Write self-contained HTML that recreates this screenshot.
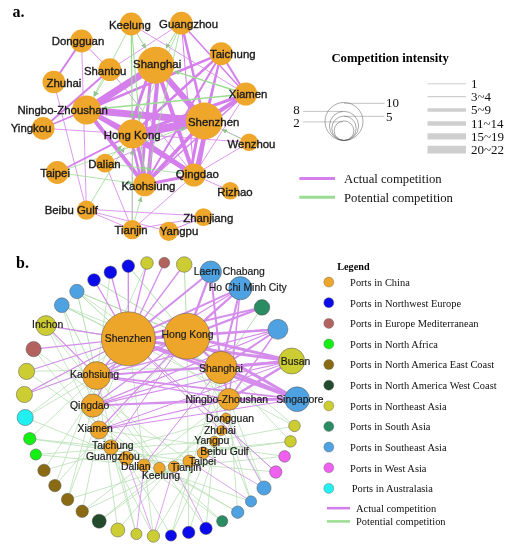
<!DOCTYPE html><html><head><meta charset="utf-8"><style>html,body{margin:0;padding:0;background:#fff;}svg{display:block;}</style></head><body>
<svg width="516" height="550" viewBox="0 0 516 550">
<rect width="516" height="550" fill="#fff"/>
<defs><marker id="ag" viewBox="0 0 10 10" refX="10" refY="5" markerWidth="5" markerHeight="5" markerUnits="userSpaceOnUse" orient="auto"><path d="M0,0L10,5L0,10z" fill="#8FC48F"/></marker></defs>
<g stroke-linecap="butt">
<line x1="81.6" y1="41.0" x2="53.8" y2="82.0" stroke="#D47FEC" stroke-width="2" stroke-opacity="1.0"/>
<line x1="81.6" y1="41.0" x2="109.8" y2="69.7" stroke="#D47FEC" stroke-width="1" stroke-opacity="1.0"/>
<line x1="81.6" y1="41.0" x2="86.4" y2="210.2" stroke="#D47FEC" stroke-width="0.8" stroke-opacity="1.0"/>
<line x1="109.8" y1="69.7" x2="43.1" y2="128.3" stroke="#D47FEC" stroke-width="2" stroke-opacity="1.0"/>
<line x1="181.4" y1="23.2" x2="109.8" y2="69.7" stroke="#D47FEC" stroke-width="0.8" stroke-opacity="1.0"/>
<line x1="131.2" y1="24.0" x2="245.8" y2="94.0" stroke="#D47FEC" stroke-width="0.8" stroke-opacity="1.0"/>
<line x1="43.1" y1="128.3" x2="86.5" y2="110.0" stroke="#D47FEC" stroke-width="1.5" stroke-opacity="1.0"/>
<line x1="43.1" y1="128.3" x2="132.4" y2="134.1" stroke="#D47FEC" stroke-width="0.8" stroke-opacity="1.0"/>
<line x1="57.3" y1="172.5" x2="132.4" y2="134.1" stroke="#D47FEC" stroke-width="1.8" stroke-opacity="1.0"/>
<line x1="53.8" y1="82.0" x2="86.4" y2="210.2" stroke="#D47FEC" stroke-width="0.8" stroke-opacity="1.0"/>
<line x1="109.8" y1="69.7" x2="194.0" y2="175.0" stroke="#D47FEC" stroke-width="0.8" stroke-opacity="1.0"/>
<line x1="194.0" y1="175.0" x2="230.2" y2="190.7" stroke="#D47FEC" stroke-width="0.8" stroke-opacity="1.0"/>
<line x1="204.3" y1="121.0" x2="249.1" y2="142.3" stroke="#D47FEC" stroke-width="0.8" stroke-opacity="1.0"/>
<line x1="132.4" y1="134.1" x2="249.1" y2="142.3" stroke="#D47FEC" stroke-width="0.8" stroke-opacity="1.0"/>
<line x1="194.0" y1="175.0" x2="249.1" y2="142.3" stroke="#D47FEC" stroke-width="0.8" stroke-opacity="1.0"/>
<line x1="86.5" y1="209.2" x2="203.6" y2="216.1" stroke="#D47FEC" stroke-width="0.8" stroke-opacity="1.0"/>
<line x1="86.4" y1="210.2" x2="132.2" y2="229.6" stroke="#D47FEC" stroke-width="0.8" stroke-opacity="1.0"/>
<line x1="86.4" y1="210.2" x2="168.7" y2="231.3" stroke="#D47FEC" stroke-width="0.8" stroke-opacity="1.0"/>
<line x1="132.2" y1="229.6" x2="194.0" y2="175.0" stroke="#D47FEC" stroke-width="0.8" stroke-opacity="1.0"/>
<line x1="132.2" y1="229.6" x2="203.5" y2="217.1" stroke="#D47FEC" stroke-width="0.8" stroke-opacity="1.0"/>
<line x1="168.7" y1="231.3" x2="203.5" y2="217.1" stroke="#D47FEC" stroke-width="1" stroke-opacity="1.0"/>
<line x1="132.2" y1="229.6" x2="132.4" y2="134.1" stroke="#D47FEC" stroke-width="0.8" stroke-opacity="1.0"/>
<line x1="105.1" y1="163.2" x2="132.2" y2="229.6" stroke="#D47FEC" stroke-width="0.8" stroke-opacity="1.0"/>
<line x1="105.1" y1="163.2" x2="204.3" y2="121.0" stroke="#D47FEC" stroke-width="0.8" stroke-opacity="1.0"/>
<line x1="245.8" y1="94.0" x2="194.0" y2="175.0" stroke="#D47FEC" stroke-width="0.8" stroke-opacity="1.0"/>
<line x1="245.8" y1="94.0" x2="144.7" y2="184.8" stroke="#D47FEC" stroke-width="1.5" stroke-opacity="1.0"/>
<line x1="221.2" y1="53.7" x2="194.0" y2="175.0" stroke="#D47FEC" stroke-width="1.5" stroke-opacity="1.0"/>
<line x1="221.2" y1="53.7" x2="144.7" y2="184.8" stroke="#D47FEC" stroke-width="2" stroke-opacity="1.0"/>
<line x1="221.2" y1="53.7" x2="245.8" y2="94.0" stroke="#D47FEC" stroke-width="2" stroke-opacity="1.0"/>
<line x1="221.2" y1="53.7" x2="204.3" y2="121.0" stroke="#D47FEC" stroke-width="2" stroke-opacity="1.0"/>
<line x1="221.2" y1="53.7" x2="86.5" y2="110.0" stroke="#D47FEC" stroke-width="2.5" stroke-opacity="1.0"/>
<line x1="221.2" y1="53.7" x2="132.4" y2="134.1" stroke="#D47FEC" stroke-width="2.5" stroke-opacity="1.0"/>
<line x1="181.4" y1="23.2" x2="204.3" y2="121.0" stroke="#D47FEC" stroke-width="2.5" stroke-opacity="1.0"/>
<line x1="181.4" y1="23.2" x2="245.8" y2="94.0" stroke="#D47FEC" stroke-width="1.5" stroke-opacity="1.0"/>
<line x1="181.4" y1="23.2" x2="194.0" y2="175.0" stroke="#D47FEC" stroke-width="1" stroke-opacity="1.0"/>
<line x1="131.2" y1="24.0" x2="93.6" y2="96.3" stroke="#9ADC92" stroke-width="0.8" marker-end="url(#ag)" stroke-opacity="1.0"/>
<line x1="245.8" y1="94.0" x2="132.4" y2="134.1" stroke="#D47FEC" stroke-width="3" stroke-opacity="1.0"/>
<line x1="245.8" y1="94.0" x2="204.3" y2="121.0" stroke="#D47FEC" stroke-width="4" stroke-opacity="1.0"/>
<line x1="144.7" y1="184.8" x2="194.0" y2="175.0" stroke="#D47FEC" stroke-width="3" stroke-opacity="1.0"/>
<line x1="86.5" y1="110.0" x2="194.0" y2="175.0" stroke="#D47FEC" stroke-width="3" stroke-opacity="1.0"/>
<line x1="152.0" y1="63.9" x2="128.6" y2="132.8" stroke="#D47FEC" stroke-width="3" stroke-opacity="1.0"/>
<line x1="204.3" y1="121.0" x2="144.7" y2="184.8" stroke="#D47FEC" stroke-width="3.5" stroke-opacity="1.0"/>
<line x1="207.2" y1="121.6" x2="196.9" y2="175.6" stroke="#D47FEC" stroke-width="4" stroke-opacity="1.0"/>
<line x1="200.4" y1="120.3" x2="190.1" y2="174.3" stroke="#D47FEC" stroke-width="3" stroke-opacity="1.0"/>
<line x1="134.8" y1="133.5" x2="147.1" y2="184.2" stroke="#D47FEC" stroke-width="3.5" stroke-opacity="1.0"/>
<line x1="130.0" y1="134.7" x2="142.3" y2="185.4" stroke="#D47FEC" stroke-width="2.5" stroke-opacity="1.0"/>
<line x1="132.4" y1="134.1" x2="194.0" y2="175.0" stroke="#D47FEC" stroke-width="5" stroke-opacity="1.0"/>
<line x1="155.8" y1="65.2" x2="194.0" y2="175.0" stroke="#D47FEC" stroke-width="4" stroke-opacity="1.0"/>
<line x1="158.8" y1="65.5" x2="147.7" y2="185.1" stroke="#D47FEC" stroke-width="4" stroke-opacity="1.0"/>
<line x1="151.8" y1="64.8" x2="140.7" y2="184.4" stroke="#D47FEC" stroke-width="3" stroke-opacity="1.0"/>
<line x1="86.5" y1="110.0" x2="144.7" y2="184.8" stroke="#D47FEC" stroke-width="4" stroke-opacity="1.0"/>
<line x1="86.5" y1="110.0" x2="132.4" y2="134.1" stroke="#D47FEC" stroke-width="5" stroke-opacity="1.0"/>
<line x1="155.8" y1="65.2" x2="204.3" y2="121.0" stroke="#D47FEC" stroke-width="6" stroke-opacity="1.0"/>
<line x1="86.5" y1="110.0" x2="204.3" y2="121.0" stroke="#D47FEC" stroke-width="7" stroke-opacity="1.0"/>
<line x1="132.4" y1="134.1" x2="204.3" y2="121.0" stroke="#D47FEC" stroke-width="8" stroke-opacity="1.0"/>
<line x1="155.8" y1="65.2" x2="86.5" y2="110.0" stroke="#D47FEC" stroke-width="7" stroke-opacity="1.0"/>
<line x1="131.2" y1="24.0" x2="145.8" y2="48.5" stroke="#9ADC92" stroke-width="1" marker-end="url(#ag)" stroke-opacity="1.0"/>
<line x1="181.4" y1="23.2" x2="165.9" y2="48.5" stroke="#9ADC92" stroke-width="1" marker-end="url(#ag)" stroke-opacity="1.0"/>
<line x1="245.8" y1="94.0" x2="174.4" y2="71.1" stroke="#9ADC92" stroke-width="1.5" marker-end="url(#ag)" stroke-opacity="1.0"/>
<line x1="245.8" y1="94.0" x2="101.8" y2="108.5" stroke="#9ADC92" stroke-width="1.5" marker-end="url(#ag)" stroke-opacity="1.0"/>
<line x1="131.2" y1="24.0" x2="132.2" y2="118.6" stroke="#9ADC92" stroke-width="1.2" marker-end="url(#ag)" stroke-opacity="1.0"/>
<line x1="131.2" y1="24.0" x2="143.7" y2="172.3" stroke="#9ADC92" stroke-width="1" marker-end="url(#ag)" stroke-opacity="1.0"/>
<line x1="181.4" y1="23.2" x2="138.7" y2="119.9" stroke="#9ADC92" stroke-width="0.8" marker-end="url(#ag)" stroke-opacity="1.0"/>
<line x1="181.4" y1="23.2" x2="147.5" y2="172.6" stroke="#9ADC92" stroke-width="0.8" marker-end="url(#ag)" stroke-opacity="1.0"/>
<line x1="109.8" y1="69.7" x2="94.2" y2="96.7" stroke="#9ADC92" stroke-width="0.8" marker-end="url(#ag)" stroke-opacity="1.0"/>
<line x1="105.1" y1="163.2" x2="121.8" y2="145.4" stroke="#9ADC92" stroke-width="0.8" marker-end="url(#ag)" stroke-opacity="1.0"/>
<line x1="57.3" y1="172.5" x2="132.3" y2="183.1" stroke="#9ADC92" stroke-width="0.8" marker-end="url(#ag)" stroke-opacity="1.0"/>
<line x1="132.2" y1="229.6" x2="141.3" y2="196.8" stroke="#9ADC92" stroke-width="0.8" marker-end="url(#ag)" stroke-opacity="1.0"/>
<line x1="132.2" y1="229.6" x2="132.4" y2="149.6" stroke="#9ADC92" stroke-width="0.8" marker-end="url(#ag)" stroke-opacity="1.0"/>
<line x1="86.4" y1="210.2" x2="124.4" y2="147.4" stroke="#9ADC92" stroke-width="0.8" marker-end="url(#ag)" stroke-opacity="1.0"/>
<line x1="105.1" y1="163.2" x2="181.5" y2="173.3" stroke="#9ADC92" stroke-width="0.8" marker-end="url(#ag)" stroke-opacity="1.0"/>
<line x1="249.1" y1="142.3" x2="221.9" y2="129.4" stroke="#9ADC92" stroke-width="0.8" marker-end="url(#ag)" stroke-opacity="1.0"/>
<line x1="57.3" y1="172.5" x2="185.9" y2="127.4" stroke="#9ADC92" stroke-width="0.8" marker-end="url(#ag)" stroke-opacity="1.0"/>
</g>
<g fill="#EEA62B">
<circle cx="131.2" cy="24" r="11.4"/>
<circle cx="181.4" cy="23.2" r="11.4"/>
<circle cx="81.6" cy="41" r="11.4"/>
<circle cx="109.8" cy="69.7" r="11.4"/>
<circle cx="155.8" cy="65.2" r="18.5"/>
<circle cx="221.2" cy="53.7" r="11.5"/>
<circle cx="53.8" cy="82" r="11.3"/>
<circle cx="245.8" cy="94" r="11.5"/>
<circle cx="86.5" cy="110" r="14.4"/>
<circle cx="43.1" cy="128.3" r="11.4"/>
<circle cx="132.4" cy="134.1" r="14.5"/>
<circle cx="204.3" cy="121" r="18.5"/>
<circle cx="249.1" cy="142.3" r="8.8"/>
<circle cx="105.1" cy="163.2" r="9.4"/>
<circle cx="57.3" cy="172.5" r="11.4"/>
<circle cx="194" cy="175" r="11.6"/>
<circle cx="144.7" cy="184.8" r="11.5"/>
<circle cx="230.2" cy="190.7" r="8.8"/>
<circle cx="86.4" cy="210.2" r="9.6"/>
<circle cx="203.5" cy="217.1" r="8.9"/>
<circle cx="132.2" cy="229.6" r="9.6"/>
<circle cx="168.7" cy="231.3" r="9.6"/>
</g>
<g font-family="Liberation Sans, DejaVu Sans, sans-serif" font-size="11.4" fill="#1a1a1a" stroke="#1a1a1a" stroke-width="0.35">
<text x="109" y="28.6">Keelung</text>
<text x="159.1" y="27.8">Guangzhou</text>
<text x="51.7" y="45.1">Dongguan</text>
<text x="83.9" y="74.6">Shantou</text>
<text x="133.1" y="67.5">Shanghai</text>
<text x="210" y="57.7">Taichung</text>
<text x="46.5" y="87.1">Zhuhai</text>
<text x="228.8" y="97.5">Xiamen</text>
<text x="17.4" y="114.0">Ningbo-Zhoushan</text>
<text x="10.7" y="132.4">Yingkou</text>
<text x="103.7" y="139.4">Hong Kong</text>
<text x="188" y="126.0">Shenzhen</text>
<text x="227.5" y="147.7">Wenzhou</text>
<text x="88.3" y="168.3">Dalian</text>
<text x="40.2" y="177.0">Taipei</text>
<text x="175.8" y="177.8">Qingdao</text>
<text x="121.5" y="190.0">Kaohsiung</text>
<text x="217.2" y="195.8">Rizhao</text>
<text x="44.7" y="213.9">Beibu Gulf</text>
<text x="183.2" y="221.6">Zhanjiang</text>
<text x="114.5" y="234.0">Tianjin</text>
<text x="159.8" y="235.2">Yangpu</text>
</g>
<text x="12.6" y="17.3" font-family="Liberation Serif, serif" font-weight="bold" font-size="16">a.</text>
<text x="331.4" y="62.2" font-family="Liberation Serif, serif" font-weight="bold" font-size="12.7">Competition intensity</text>
<g fill="none" stroke="#9a9a9a" stroke-width="0.6">
<line x1="303" y1="111.4" x2="343" y2="111.4"/><line x1="303" y1="121.9" x2="343" y2="121.9"/>
<line x1="344" y1="103.3" x2="384.5" y2="103.3"/><line x1="344" y1="116.3" x2="384.5" y2="116.3"/>
</g><g fill="none" stroke="#555" stroke-width="0.5">
<circle cx="344" cy="121.5" r="19"/>
<circle cx="344" cy="125.9" r="14.6"/>
<circle cx="344" cy="128.3" r="12.2"/>
<circle cx="344" cy="130.7" r="9.8"/>
</g>
<g font-family="Liberation Serif, serif" font-size="13" fill="#111">
<text x="386" y="107.2">10</text><text x="386" y="121">5</text><text x="293.3" y="114.2">8</text><text x="293.3" y="126.8">2</text>
<line x1="427.5" y1="83.8" x2="466" y2="83.8" stroke="#cfcfcf" stroke-width="1"/>
<text x="471" y="88.0">1</text>
<line x1="427.5" y1="96.7" x2="466" y2="96.7" stroke="#cfcfcf" stroke-width="1.3"/>
<text x="471" y="100.9">3~4</text>
<line x1="427.5" y1="110" x2="466" y2="110" stroke="#cfcfcf" stroke-width="3.3"/>
<text x="471" y="114.2">5~9</text>
<line x1="427.5" y1="123.4" x2="466" y2="123.4" stroke="#cfcfcf" stroke-width="4.5"/>
<text x="471" y="127.60000000000001">11~14</text>
<line x1="427.5" y1="136.4" x2="466" y2="136.4" stroke="#cfcfcf" stroke-width="6.2"/>
<text x="471" y="140.6">15~19</text>
<line x1="427.5" y1="149.7" x2="466" y2="149.7" stroke="#cfcfcf" stroke-width="7.8"/>
<text x="471" y="153.89999999999998">20~22</text>
</g>
<line x1="299.4" y1="178.6" x2="335" y2="178.6" stroke="#D47FEC" stroke-width="3"/>
<line x1="299.4" y1="197.2" x2="335" y2="197.2" stroke="#9ADC92" stroke-width="3"/>
<g font-family="Liberation Serif, serif" font-size="12.7" fill="#111"><text x="344" y="183.3">Actual competition</text><text x="344" y="201.9">Potential competition</text></g>
<text x="16" y="268.3" font-family="Liberation Serif, serif" font-weight="bold" font-size="16">b.</text>
<g stroke-linecap="butt">
<line x1="96.6" y1="375.6" x2="76.9" y2="291.5" stroke="#A9DCA5" stroke-width="0.9" stroke-opacity="1"/>
<line x1="96.6" y1="375.6" x2="61.8" y2="305.2" stroke="#A9DCA5" stroke-width="0.9" stroke-opacity="1"/>
<line x1="221.0" y1="367.5" x2="262.0" y2="307.4" stroke="#A9DCA5" stroke-width="0.9" stroke-opacity="1"/>
<line x1="221.0" y1="367.5" x2="240.4" y2="288.2" stroke="#A9DCA5" stroke-width="0.9" stroke-opacity="1"/>
<line x1="187.0" y1="336.2" x2="128.3" y2="266.1" stroke="#A9DCA5" stroke-width="0.9" stroke-opacity="1"/>
<line x1="187.0" y1="336.2" x2="210.7" y2="271.8" stroke="#A9DCA5" stroke-width="0.9" stroke-opacity="1"/>
<line x1="187.0" y1="336.2" x2="184.2" y2="264.5" stroke="#A9DCA5" stroke-width="0.9" stroke-opacity="1"/>
<line x1="187.0" y1="336.2" x2="94.0" y2="280.0" stroke="#A9DCA5" stroke-width="0.9" stroke-opacity="1"/>
<line x1="187.0" y1="336.2" x2="76.9" y2="291.5" stroke="#A9DCA5" stroke-width="0.9" stroke-opacity="1"/>
<line x1="128.4" y1="338.8" x2="46.0" y2="325.6" stroke="#A9DCA5" stroke-width="0.9" stroke-opacity="1"/>
<line x1="128.4" y1="338.8" x2="76.9" y2="291.5" stroke="#A9DCA5" stroke-width="0.9" stroke-opacity="1"/>
<line x1="128.4" y1="338.8" x2="61.8" y2="305.2" stroke="#A9DCA5" stroke-width="0.9" stroke-opacity="1"/>
<line x1="61.8" y1="305.2" x2="92.8" y2="405.6" stroke="#B9E0B5" stroke-width="0.8" stroke-opacity="1"/>
<line x1="61.8" y1="305.2" x2="128.4" y2="338.8" stroke="#B9E0B5" stroke-width="0.8" stroke-opacity="1"/>
<line x1="61.8" y1="305.2" x2="221.0" y2="367.5" stroke="#B9E0B5" stroke-width="0.8" stroke-opacity="1"/>
<line x1="76.9" y1="291.5" x2="187.0" y2="336.2" stroke="#B9E0B5" stroke-width="0.8" stroke-opacity="1"/>
<line x1="76.9" y1="291.5" x2="229.0" y2="399.3" stroke="#B9E0B5" stroke-width="0.8" stroke-opacity="1"/>
<line x1="110.4" y1="272.3" x2="96.6" y2="375.6" stroke="#B9E0B5" stroke-width="0.8" stroke-opacity="1"/>
<line x1="128.3" y1="266.1" x2="128.4" y2="338.8" stroke="#B9E0B5" stroke-width="0.8" stroke-opacity="1"/>
<line x1="147.0" y1="263.0" x2="96.6" y2="375.6" stroke="#B9E0B5" stroke-width="0.8" stroke-opacity="1"/>
<line x1="210.7" y1="271.8" x2="128.4" y2="338.8" stroke="#B9E0B5" stroke-width="0.8" stroke-opacity="1"/>
<line x1="240.4" y1="288.2" x2="128.4" y2="338.8" stroke="#B9E0B5" stroke-width="0.8" stroke-opacity="1"/>
<line x1="262.0" y1="307.4" x2="187.0" y2="336.2" stroke="#B9E0B5" stroke-width="0.8" stroke-opacity="1"/>
<line x1="297.1" y1="399.2" x2="221.0" y2="367.5" stroke="#B9E0B5" stroke-width="0.8" stroke-opacity="1"/>
<line x1="294.5" y1="425.9" x2="128.4" y2="338.8" stroke="#B9E0B5" stroke-width="0.8" stroke-opacity="1"/>
<line x1="294.5" y1="425.9" x2="187.0" y2="336.2" stroke="#B9E0B5" stroke-width="0.8" stroke-opacity="1"/>
<line x1="294.5" y1="425.9" x2="214.2" y2="441.3" stroke="#B9E0B5" stroke-width="0.8" stroke-opacity="1"/>
<line x1="290.5" y1="441.4" x2="221.0" y2="367.5" stroke="#B9E0B5" stroke-width="0.8" stroke-opacity="1"/>
<line x1="290.5" y1="441.4" x2="203.2" y2="452.9" stroke="#B9E0B5" stroke-width="0.8" stroke-opacity="1"/>
<line x1="290.5" y1="441.4" x2="126.2" y2="458.2" stroke="#B9E0B5" stroke-width="0.8" stroke-opacity="1"/>
<line x1="284.6" y1="456.4" x2="174.1" y2="466.7" stroke="#B9E0B5" stroke-width="0.8" stroke-opacity="1"/>
<line x1="284.6" y1="456.4" x2="99.0" y2="430.0" stroke="#B9E0B5" stroke-width="0.8" stroke-opacity="1"/>
<line x1="275.8" y1="472.0" x2="128.4" y2="338.8" stroke="#B9E0B5" stroke-width="0.8" stroke-opacity="1"/>
<line x1="275.8" y1="472.0" x2="126.2" y2="458.2" stroke="#B9E0B5" stroke-width="0.8" stroke-opacity="1"/>
<line x1="264.0" y1="488.0" x2="187.0" y2="336.2" stroke="#B9E0B5" stroke-width="0.8" stroke-opacity="1"/>
<line x1="264.0" y1="488.0" x2="229.0" y2="399.3" stroke="#B9E0B5" stroke-width="0.8" stroke-opacity="1"/>
<line x1="251.0" y1="501.4" x2="187.0" y2="336.2" stroke="#B9E0B5" stroke-width="0.8" stroke-opacity="1"/>
<line x1="251.0" y1="501.4" x2="226.0" y2="418.0" stroke="#B9E0B5" stroke-width="0.8" stroke-opacity="1"/>
<line x1="251.0" y1="501.4" x2="144.0" y2="465.3" stroke="#B9E0B5" stroke-width="0.8" stroke-opacity="1"/>
<line x1="237.7" y1="512.2" x2="229.0" y2="399.3" stroke="#B9E0B5" stroke-width="0.8" stroke-opacity="1"/>
<line x1="237.7" y1="512.2" x2="159.4" y2="468.1" stroke="#B9E0B5" stroke-width="0.8" stroke-opacity="1"/>
<line x1="237.7" y1="512.2" x2="99.0" y2="430.0" stroke="#B9E0B5" stroke-width="0.8" stroke-opacity="1"/>
<line x1="222.2" y1="521.2" x2="144.0" y2="465.3" stroke="#B9E0B5" stroke-width="0.8" stroke-opacity="1"/>
<line x1="222.2" y1="521.2" x2="92.8" y2="405.6" stroke="#B9E0B5" stroke-width="0.8" stroke-opacity="1"/>
<line x1="206.0" y1="528.4" x2="221.0" y2="367.5" stroke="#B9E0B5" stroke-width="0.8" stroke-opacity="1"/>
<line x1="206.0" y1="528.4" x2="96.6" y2="375.6" stroke="#B9E0B5" stroke-width="0.8" stroke-opacity="1"/>
<line x1="188.7" y1="532.4" x2="187.0" y2="336.2" stroke="#B9E0B5" stroke-width="0.8" stroke-opacity="1"/>
<line x1="188.7" y1="532.4" x2="226.0" y2="418.0" stroke="#B9E0B5" stroke-width="0.8" stroke-opacity="1"/>
<line x1="171.0" y1="535.5" x2="221.0" y2="367.5" stroke="#B9E0B5" stroke-width="0.8" stroke-opacity="1"/>
<line x1="171.0" y1="535.5" x2="214.2" y2="441.3" stroke="#B9E0B5" stroke-width="0.8" stroke-opacity="1"/>
<line x1="171.0" y1="535.5" x2="126.2" y2="458.2" stroke="#B9E0B5" stroke-width="0.8" stroke-opacity="1"/>
<line x1="153.4" y1="536.1" x2="203.2" y2="452.9" stroke="#B9E0B5" stroke-width="0.8" stroke-opacity="1"/>
<line x1="153.4" y1="536.1" x2="99.0" y2="430.0" stroke="#B9E0B5" stroke-width="0.8" stroke-opacity="1"/>
<line x1="153.4" y1="536.1" x2="128.4" y2="338.8" stroke="#B9E0B5" stroke-width="0.8" stroke-opacity="1"/>
<line x1="136.4" y1="534.0" x2="111.0" y2="447.2" stroke="#B9E0B5" stroke-width="0.8" stroke-opacity="1"/>
<line x1="136.4" y1="534.0" x2="96.6" y2="375.6" stroke="#B9E0B5" stroke-width="0.8" stroke-opacity="1"/>
<line x1="117.8" y1="530.0" x2="229.0" y2="399.3" stroke="#B9E0B5" stroke-width="0.8" stroke-opacity="1"/>
<line x1="117.8" y1="530.0" x2="96.6" y2="375.6" stroke="#B9E0B5" stroke-width="0.8" stroke-opacity="1"/>
<line x1="99.2" y1="521.2" x2="226.0" y2="418.0" stroke="#B9E0B5" stroke-width="0.8" stroke-opacity="1"/>
<line x1="99.2" y1="521.2" x2="174.1" y2="466.7" stroke="#B9E0B5" stroke-width="0.8" stroke-opacity="1"/>
<line x1="82.2" y1="511.3" x2="229.0" y2="399.3" stroke="#B9E0B5" stroke-width="0.8" stroke-opacity="1"/>
<line x1="82.2" y1="511.3" x2="189.1" y2="461.2" stroke="#B9E0B5" stroke-width="0.8" stroke-opacity="1"/>
<line x1="82.2" y1="511.3" x2="99.0" y2="430.0" stroke="#B9E0B5" stroke-width="0.8" stroke-opacity="1"/>
<line x1="67.6" y1="499.5" x2="174.1" y2="466.7" stroke="#B9E0B5" stroke-width="0.8" stroke-opacity="1"/>
<line x1="67.6" y1="499.5" x2="92.8" y2="405.6" stroke="#B9E0B5" stroke-width="0.8" stroke-opacity="1"/>
<line x1="67.6" y1="499.5" x2="128.4" y2="338.8" stroke="#B9E0B5" stroke-width="0.8" stroke-opacity="1"/>
<line x1="54.9" y1="485.6" x2="96.6" y2="375.6" stroke="#B9E0B5" stroke-width="0.8" stroke-opacity="1"/>
<line x1="54.9" y1="485.6" x2="187.0" y2="336.2" stroke="#B9E0B5" stroke-width="0.8" stroke-opacity="1"/>
<line x1="44.0" y1="470.4" x2="226.0" y2="418.0" stroke="#B9E0B5" stroke-width="0.8" stroke-opacity="1"/>
<line x1="44.0" y1="470.4" x2="128.4" y2="338.8" stroke="#B9E0B5" stroke-width="0.8" stroke-opacity="1"/>
<line x1="35.8" y1="454.5" x2="214.2" y2="441.3" stroke="#B9E0B5" stroke-width="0.8" stroke-opacity="1"/>
<line x1="35.8" y1="454.5" x2="144.0" y2="465.3" stroke="#B9E0B5" stroke-width="0.8" stroke-opacity="1"/>
<line x1="29.8" y1="438.7" x2="189.1" y2="461.2" stroke="#B9E0B5" stroke-width="0.8" stroke-opacity="1"/>
<line x1="29.8" y1="438.7" x2="111.0" y2="447.2" stroke="#B9E0B5" stroke-width="0.8" stroke-opacity="1"/>
<line x1="29.8" y1="438.7" x2="96.6" y2="375.6" stroke="#B9E0B5" stroke-width="0.8" stroke-opacity="1"/>
<line x1="25.2" y1="417.5" x2="126.2" y2="458.2" stroke="#B9E0B5" stroke-width="0.8" stroke-opacity="1"/>
<line x1="25.2" y1="417.5" x2="96.6" y2="375.6" stroke="#B9E0B5" stroke-width="0.8" stroke-opacity="1"/>
<line x1="25.2" y1="417.5" x2="128.4" y2="338.8" stroke="#B9E0B5" stroke-width="0.8" stroke-opacity="1"/>
<line x1="24.4" y1="394.5" x2="128.4" y2="338.8" stroke="#B9E0B5" stroke-width="0.8" stroke-opacity="1"/>
<line x1="24.4" y1="394.5" x2="187.0" y2="336.2" stroke="#B9E0B5" stroke-width="0.8" stroke-opacity="1"/>
<line x1="26.6" y1="371.4" x2="159.4" y2="468.1" stroke="#B9E0B5" stroke-width="0.8" stroke-opacity="1"/>
<line x1="26.6" y1="371.4" x2="221.0" y2="367.5" stroke="#B9E0B5" stroke-width="0.8" stroke-opacity="1"/>
<line x1="33.6" y1="349.1" x2="189.1" y2="461.2" stroke="#B9E0B5" stroke-width="0.8" stroke-opacity="1"/>
<line x1="33.6" y1="349.1" x2="111.0" y2="447.2" stroke="#B9E0B5" stroke-width="0.8" stroke-opacity="1"/>
<line x1="46.0" y1="325.6" x2="159.4" y2="468.1" stroke="#B9E0B5" stroke-width="0.8" stroke-opacity="1"/>
<line x1="46.0" y1="325.6" x2="99.0" y2="430.0" stroke="#B9E0B5" stroke-width="0.8" stroke-opacity="1"/>
<line x1="46.0" y1="325.6" x2="128.4" y2="338.8" stroke="#B9E0B5" stroke-width="0.8" stroke-opacity="1"/>
<line x1="128.4" y1="338.8" x2="94.0" y2="280.0" stroke="#D58DEC" stroke-width="1.3" stroke-opacity="1"/>
<line x1="128.4" y1="338.8" x2="110.4" y2="272.3" stroke="#D58DEC" stroke-width="1.3" stroke-opacity="1"/>
<line x1="128.4" y1="338.8" x2="128.3" y2="266.1" stroke="#D58DEC" stroke-width="1.3" stroke-opacity="1"/>
<line x1="128.4" y1="338.8" x2="147.0" y2="263.0" stroke="#D58DEC" stroke-width="1.3" stroke-opacity="1"/>
<line x1="128.4" y1="338.8" x2="164.3" y2="262.7" stroke="#D58DEC" stroke-width="1.3" stroke-opacity="1"/>
<line x1="128.4" y1="338.8" x2="184.2" y2="264.5" stroke="#D58DEC" stroke-width="1.3" stroke-opacity="1"/>
<line x1="128.4" y1="338.8" x2="33.6" y2="349.1" stroke="#D58DEC" stroke-width="1.3" stroke-opacity="1"/>
<line x1="128.4" y1="338.8" x2="46.0" y2="325.6" stroke="#D58DEC" stroke-width="1.3" stroke-opacity="1"/>
<line x1="128.4" y1="338.8" x2="210.7" y2="271.8" stroke="#D58DEC" stroke-width="2" stroke-opacity="1"/>
<line x1="128.4" y1="338.8" x2="240.4" y2="288.2" stroke="#D58DEC" stroke-width="2" stroke-opacity="1"/>
<line x1="128.4" y1="338.8" x2="262.0" y2="307.4" stroke="#D58DEC" stroke-width="2" stroke-opacity="1"/>
<line x1="128.4" y1="338.8" x2="277.9" y2="329.3" stroke="#D58DEC" stroke-width="2" stroke-opacity="1"/>
<line x1="128.4" y1="338.8" x2="291.7" y2="361.0" stroke="#D58DEC" stroke-width="3" stroke-opacity="1"/>
<line x1="128.4" y1="338.8" x2="297.1" y2="399.2" stroke="#D58DEC" stroke-width="3" stroke-opacity="1"/>
<line x1="187.0" y1="336.2" x2="210.7" y2="271.8" stroke="#D58DEC" stroke-width="2.3" stroke-opacity="1"/>
<line x1="187.0" y1="336.2" x2="240.4" y2="288.2" stroke="#D58DEC" stroke-width="2.3" stroke-opacity="1"/>
<line x1="187.0" y1="336.2" x2="262.0" y2="307.4" stroke="#D58DEC" stroke-width="2.3" stroke-opacity="1"/>
<line x1="187.0" y1="336.2" x2="277.9" y2="329.3" stroke="#D58DEC" stroke-width="2.3" stroke-opacity="1"/>
<line x1="187.0" y1="336.2" x2="291.7" y2="361.0" stroke="#D58DEC" stroke-width="3" stroke-opacity="1"/>
<line x1="187.0" y1="336.2" x2="297.1" y2="399.2" stroke="#D58DEC" stroke-width="3" stroke-opacity="1"/>
<line x1="221.0" y1="367.5" x2="210.7" y2="271.8" stroke="#D58DEC" stroke-width="2" stroke-opacity="1"/>
<line x1="221.0" y1="367.5" x2="240.4" y2="288.2" stroke="#D58DEC" stroke-width="2" stroke-opacity="1"/>
<line x1="221.0" y1="367.5" x2="277.9" y2="329.3" stroke="#D58DEC" stroke-width="2" stroke-opacity="1"/>
<line x1="221.0" y1="367.5" x2="291.7" y2="361.0" stroke="#D58DEC" stroke-width="3" stroke-opacity="1"/>
<line x1="221.0" y1="367.5" x2="297.1" y2="399.2" stroke="#D58DEC" stroke-width="3" stroke-opacity="1"/>
<line x1="229.0" y1="399.3" x2="240.4" y2="288.2" stroke="#D58DEC" stroke-width="1.5" stroke-opacity="1"/>
<line x1="229.0" y1="399.3" x2="277.9" y2="329.3" stroke="#D58DEC" stroke-width="1.5" stroke-opacity="1"/>
<line x1="229.0" y1="399.3" x2="291.7" y2="361.0" stroke="#D58DEC" stroke-width="2.5" stroke-opacity="1"/>
<line x1="229.0" y1="399.3" x2="297.1" y2="399.2" stroke="#D58DEC" stroke-width="2.5" stroke-opacity="1"/>
<line x1="96.6" y1="375.6" x2="240.4" y2="288.2" stroke="#D58DEC" stroke-width="1.2" stroke-opacity="1"/>
<line x1="96.6" y1="375.6" x2="277.9" y2="329.3" stroke="#D58DEC" stroke-width="1.2" stroke-opacity="1"/>
<line x1="96.6" y1="375.6" x2="46.0" y2="325.6" stroke="#D58DEC" stroke-width="1.2" stroke-opacity="1"/>
<line x1="128.4" y1="338.8" x2="26.6" y2="371.4" stroke="#D58DEC" stroke-width="1.1" stroke-opacity="1"/>
<line x1="128.4" y1="338.8" x2="24.4" y2="394.5" stroke="#D58DEC" stroke-width="1.1" stroke-opacity="1"/>
<line x1="187.0" y1="336.2" x2="24.4" y2="394.5" stroke="#D58DEC" stroke-width="1.0" stroke-opacity="1"/>
<line x1="128.4" y1="338.8" x2="275.8" y2="472.0" stroke="#D58DEC" stroke-width="1.0" stroke-opacity="1"/>
<line x1="96.6" y1="375.6" x2="291.7" y2="361.0" stroke="#D58DEC" stroke-width="1.8" stroke-opacity="1"/>
<line x1="96.6" y1="375.6" x2="297.1" y2="399.2" stroke="#D58DEC" stroke-width="1.8" stroke-opacity="1"/>
<line x1="92.8" y1="405.6" x2="277.9" y2="329.3" stroke="#D58DEC" stroke-width="1.2" stroke-opacity="1"/>
<line x1="92.8" y1="405.6" x2="291.7" y2="361.0" stroke="#D58DEC" stroke-width="1.2" stroke-opacity="1"/>
<line x1="92.8" y1="405.6" x2="297.1" y2="399.2" stroke="#D58DEC" stroke-width="1.2" stroke-opacity="1"/>
<line x1="99.0" y1="430.0" x2="291.7" y2="361.0" stroke="#D58DEC" stroke-width="1" stroke-opacity="1"/>
<line x1="99.0" y1="430.0" x2="297.1" y2="399.2" stroke="#D58DEC" stroke-width="1" stroke-opacity="1"/>
<line x1="144.0" y1="465.3" x2="136.4" y2="534.0" stroke="#D58DEC" stroke-width="0.8" stroke-opacity="1"/>
<line x1="126.2" y1="458.2" x2="153.4" y2="536.1" stroke="#D58DEC" stroke-width="0.8" stroke-opacity="1"/>
<line x1="174.1" y1="466.7" x2="153.4" y2="536.1" stroke="#D58DEC" stroke-width="0.8" stroke-opacity="1"/>
<line x1="174.1" y1="466.7" x2="206.0" y2="528.4" stroke="#D58DEC" stroke-width="0.8" stroke-opacity="1"/>
<line x1="203.2" y1="452.9" x2="264.0" y2="488.0" stroke="#D58DEC" stroke-width="0.8" stroke-opacity="1"/>
<line x1="226.0" y1="418.0" x2="264.0" y2="488.0" stroke="#D58DEC" stroke-width="0.8" stroke-opacity="1"/>
<line x1="189.1" y1="461.2" x2="251.0" y2="501.4" stroke="#D58DEC" stroke-width="0.8" stroke-opacity="1"/>
<line x1="128.4" y1="338.8" x2="187.0" y2="336.2" stroke="#D58DEC" stroke-width="3" stroke-opacity="1"/>
<line x1="128.4" y1="338.8" x2="221.0" y2="367.5" stroke="#D58DEC" stroke-width="2" stroke-opacity="1"/>
<line x1="187.0" y1="336.2" x2="221.0" y2="367.5" stroke="#D58DEC" stroke-width="2" stroke-opacity="1"/>
<line x1="128.4" y1="338.8" x2="96.6" y2="375.6" stroke="#D58DEC" stroke-width="1.5" stroke-opacity="1"/>
<line x1="187.0" y1="336.2" x2="96.6" y2="375.6" stroke="#D58DEC" stroke-width="1.5" stroke-opacity="1"/>
<line x1="128.4" y1="338.8" x2="92.8" y2="405.6" stroke="#D58DEC" stroke-width="1.2" stroke-opacity="1"/>
<line x1="187.0" y1="336.2" x2="92.8" y2="405.6" stroke="#D58DEC" stroke-width="1.2" stroke-opacity="1"/>
<line x1="221.0" y1="367.5" x2="96.6" y2="375.6" stroke="#D58DEC" stroke-width="1.2" stroke-opacity="1"/>
<line x1="221.0" y1="367.5" x2="229.0" y2="399.3" stroke="#D58DEC" stroke-width="2" stroke-opacity="1"/>
<line x1="229.0" y1="399.3" x2="96.6" y2="375.6" stroke="#D58DEC" stroke-width="1.2" stroke-opacity="1"/>
<line x1="221.0" y1="367.5" x2="92.8" y2="405.6" stroke="#D58DEC" stroke-width="1.2" stroke-opacity="1"/>
<line x1="187.0" y1="336.2" x2="99.0" y2="430.0" stroke="#D58DEC" stroke-width="1.2" stroke-opacity="1"/>
<line x1="187.0" y1="336.2" x2="111.0" y2="447.2" stroke="#D58DEC" stroke-width="1.0" stroke-opacity="1"/>
<line x1="128.4" y1="338.8" x2="221.3" y2="430.6" stroke="#D58DEC" stroke-width="1.0" stroke-opacity="1"/>
<line x1="144.0" y1="465.3" x2="221.0" y2="367.5" stroke="#D58DEC" stroke-width="1.0" stroke-opacity="1"/>
<line x1="92.8" y1="405.6" x2="229.0" y2="399.3" stroke="#D58DEC" stroke-width="1.5" stroke-opacity="1"/>
<line x1="99.0" y1="430.0" x2="229.0" y2="399.3" stroke="#D58DEC" stroke-width="1.2" stroke-opacity="1"/>
</g>
<g stroke="#555" stroke-width="0.5">
<circle cx="61.8" cy="305.2" r="7.4" fill="#4FA2E2"/>
<circle cx="76.9" cy="291.5" r="7.2" fill="#4FA2E2"/>
<circle cx="94" cy="280" r="6.3" fill="#0A0AEA"/>
<circle cx="110.4" cy="272.3" r="6.3" fill="#0A0AEA"/>
<circle cx="128.3" cy="266.1" r="6.3" fill="#0A0AEA"/>
<circle cx="147" cy="263" r="6.3" fill="#CCCC33"/>
<circle cx="164.3" cy="262.7" r="5.4" fill="#B3635F"/>
<circle cx="184.2" cy="264.5" r="7.8" fill="#CCCC33"/>
<circle cx="210.7" cy="271.8" r="10.8" fill="#4FA2E2"/>
<circle cx="240.4" cy="288.2" r="11.6" fill="#4FA2E2"/>
<circle cx="262" cy="307.4" r="7.8" fill="#2A8C62"/>
<circle cx="277.9" cy="329.3" r="10" fill="#4FA2E2"/>
<circle cx="291.7" cy="361" r="13" fill="#CCCC33"/>
<circle cx="297.1" cy="399.2" r="12.4" fill="#4FA2E2"/>
<circle cx="294.5" cy="425.9" r="5.8" fill="#CCCC33"/>
<circle cx="290.5" cy="441.4" r="5.8" fill="#CCCC33"/>
<circle cx="284.6" cy="456.4" r="5.8" fill="#F060F0"/>
<circle cx="275.8" cy="472" r="6.2" fill="#F060F0"/>
<circle cx="264" cy="488" r="7.1" fill="#4FA2E2"/>
<circle cx="251" cy="501.4" r="5.6" fill="#4FA2E2"/>
<circle cx="237.7" cy="512.2" r="6.2" fill="#4FA2E2"/>
<circle cx="222.2" cy="521.2" r="5.6" fill="#2A8C62"/>
<circle cx="206" cy="528.4" r="6.2" fill="#0A0AEA"/>
<circle cx="188.7" cy="532.4" r="6.2" fill="#0A0AEA"/>
<circle cx="171" cy="535.5" r="5.6" fill="#0A0AEA"/>
<circle cx="153.4" cy="536.1" r="6.2" fill="#CCCC33"/>
<circle cx="136.4" cy="534" r="5.6" fill="#CCCC33"/>
<circle cx="117.8" cy="530" r="7" fill="#CCCC33"/>
<circle cx="99.2" cy="521.2" r="7" fill="#234A2C"/>
<circle cx="82.2" cy="511.3" r="6.2" fill="#8A6A12"/>
<circle cx="67.6" cy="499.5" r="6.2" fill="#8A6A12"/>
<circle cx="54.9" cy="485.6" r="6.2" fill="#8A6A12"/>
<circle cx="44" cy="470.4" r="6.2" fill="#8A6A12"/>
<circle cx="35.8" cy="454.5" r="5.6" fill="#14F014"/>
<circle cx="29.8" cy="438.7" r="6.2" fill="#14F014"/>
<circle cx="25.2" cy="417.5" r="8.1" fill="#22F0F0"/>
<circle cx="24.4" cy="394.5" r="8.1" fill="#CCCC33"/>
<circle cx="26.6" cy="371.4" r="8.1" fill="#CCCC33"/>
<circle cx="33.6" cy="349.1" r="7.6" fill="#B3635F"/>
<circle cx="46" cy="325.6" r="10" fill="#CCCC33"/>
<circle cx="128.4" cy="338.8" r="27" fill="#EEA62A"/>
<circle cx="187" cy="336.2" r="23" fill="#EEA62A"/>
<circle cx="221" cy="367.5" r="16.2" fill="#EEA62A"/>
<circle cx="229" cy="399.3" r="10.9" fill="#EEA62A"/>
<circle cx="226" cy="418" r="5" fill="#EEA62A"/>
<circle cx="221.3" cy="430.6" r="5" fill="#EEA62A"/>
<circle cx="214.2" cy="441.3" r="5.1" fill="#EEA62A"/>
<circle cx="203.2" cy="452.9" r="6" fill="#EEA62A"/>
<circle cx="189.1" cy="461.2" r="6.2" fill="#EEA62A"/>
<circle cx="174.1" cy="466.7" r="5.8" fill="#EEA62A"/>
<circle cx="159.4" cy="468.1" r="5.8" fill="#EEA62A"/>
<circle cx="144" cy="465.3" r="6.4" fill="#EEA62A"/>
<circle cx="126.2" cy="458.2" r="7" fill="#EEA62A"/>
<circle cx="111" cy="447.2" r="7.4" fill="#EEA62A"/>
<circle cx="99" cy="430" r="9" fill="#EEA62A"/>
<circle cx="92.8" cy="405.6" r="11.6" fill="#EEA62A"/>
<circle cx="96.6" cy="375.6" r="14" fill="#EEA62A"/>
</g>
<g font-family="Liberation Sans, Arial, sans-serif" font-size="10.4" fill="#1a1a1a" stroke="#1a1a1a" stroke-width="0.2">
<text x="104.8" y="342">Shenzhen</text>
<text x="161.6" y="337.8">Hong Kong</text>
<text x="199" y="371.5">Shanghai</text>
<text x="185.4" y="403">Ningbo-Zhoushan</text>
<text x="206" y="421.5">Dongguan</text>
<text x="204" y="433.5">Zhuhai</text>
<text x="194.3" y="443.6">Yangpu</text>
<text x="200.2" y="455.4">Beibu Gulf</text>
<text x="189" y="464.9">Taipei</text>
<text x="171" y="471">Tianjin</text>
<text x="141.9" y="478.9">Keelung</text>
<text x="121" y="469.7">Dalian</text>
<text x="86" y="460">Guangzhou</text>
<text x="92" y="449">Taichung</text>
<text x="77.6" y="431.6">Xiamen</text>
<text x="70" y="408.6">Qingdao</text>
<text x="70" y="377.6">Kaohsiung</text>
<text x="32.1" y="327.9">Inchon</text>
<text x="193.8" y="275.3">Laem Chabang</text>
<text x="208.8" y="290.8">Ho Chi Minh City</text>
<text x="280.8" y="365">Busan</text>
<text x="276.2" y="403">Singapore</text>
</g>
<text x="337.3" y="270.3" font-family="Liberation Serif, serif" font-weight="bold" font-size="10.2">Legend</text>
<g font-family="Liberation Serif, serif" font-size="10.45" fill="#111">
<circle cx="328.8" cy="282.1" r="5" fill="#EEA62A" stroke="#666" stroke-width="0.4"/>
<text x="350.1" y="285.9">Ports in China</text>
<circle cx="328.8" cy="302.7" r="5" fill="#0A0AEA" stroke="#666" stroke-width="0.4"/>
<text x="350.1" y="306.5">Ports in Northwest Europe</text>
<circle cx="328.8" cy="323.4" r="5" fill="#B3635F" stroke="#666" stroke-width="0.4"/>
<text x="350.1" y="327.2">Ports in Europe Mediterranean</text>
<circle cx="328.8" cy="344.0" r="5" fill="#14F014" stroke="#666" stroke-width="0.4"/>
<text x="350.1" y="347.8">Ports in North Africa</text>
<circle cx="328.8" cy="364.6" r="5" fill="#8A6A12" stroke="#666" stroke-width="0.4"/>
<text x="350.1" y="368.4">Ports in North America East Coast</text>
<circle cx="328.8" cy="385.2" r="5" fill="#234A2C" stroke="#666" stroke-width="0.4"/>
<text x="350.1" y="389.1">Ports in North America West Coast</text>
<circle cx="328.8" cy="405.9" r="5" fill="#CCCC33" stroke="#666" stroke-width="0.4"/>
<text x="350.1" y="409.7">Ports in Northeast Asia</text>
<circle cx="328.8" cy="426.5" r="5" fill="#2A8C62" stroke="#666" stroke-width="0.4"/>
<text x="350.1" y="430.3">Ports in South Asia</text>
<circle cx="328.8" cy="447.1" r="5" fill="#4FA2E2" stroke="#666" stroke-width="0.4"/>
<text x="350.1" y="450.9">Ports in Southeast Asia</text>
<circle cx="328.8" cy="467.8" r="5" fill="#F060F0" stroke="#666" stroke-width="0.4"/>
<text x="350.1" y="471.6">Ports in West Asia</text>
<circle cx="328.8" cy="488.4" r="5" fill="#22F0F0" stroke="#666" stroke-width="0.4"/>
<text x="351.7" y="492.2">Ports in Australasia</text>
<line x1="326.9" y1="508.2" x2="350.1" y2="508.2" stroke="#D47FEC" stroke-width="2.5"/>
<line x1="326.9" y1="521.4" x2="350.1" y2="521.4" stroke="#9ADC92" stroke-width="2.5"/>
<text x="356" y="512">Actual competition</text><text x="356" y="525.2">Potential competition</text>
</g>
</svg></body></html>
